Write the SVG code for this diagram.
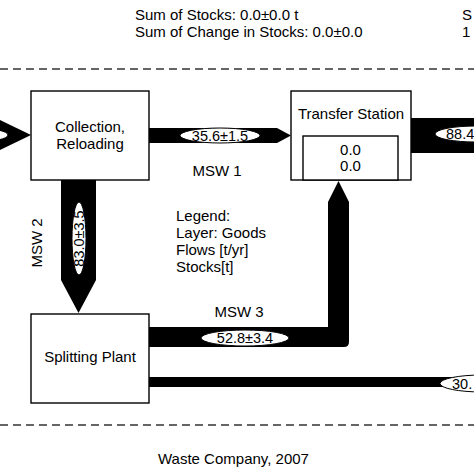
<svg xmlns="http://www.w3.org/2000/svg" width="474" height="474" viewBox="0 0 474 474">
<style>
text{font-family:"Liberation Sans",Arial,sans-serif;font-size:15px;fill:#000}
.c{text-anchor:middle}
.lbl{font-size:14.5px;text-anchor:middle}
.box{fill:#fff;stroke:#000;stroke-width:1.4}
.flow{fill:#000;stroke:none}
.ell{fill:#fff;stroke:#000;stroke-width:1}
.dash{stroke:#333;stroke-width:1.4;stroke-dasharray:8,5;fill:none}
</style>
<rect width="474" height="474" fill="#fff"/>
<g id="header">
<text x="135" y="20">Sum of Stocks: 0.0±0.0 t</text>
<text x="135" y="37">Sum of Change in Stocks: 0.0±0.0</text>
<text x="462" y="20">S</text>
<text x="462" y="37">1</text>
</g>
<line class="dash" x1="0" y1="69" x2="474" y2="69"/>
<line class="dash" x1="0" y1="425" x2="474" y2="425"/>
<g id="connectors">
<g id="input">
<polygon class="flow" points="0,120 31,135 0,150"/>
<ellipse class="ell" cx="-25" cy="135" rx="33" ry="7"/>
</g>
<g id="msw1">
<polygon class="flow" points="149,128 277,128 291,135.5 277,143 149,143"/>
<ellipse class="ell" cx="220" cy="135.5" rx="40" ry="7.5"/>
<text class="lbl" x="220" y="140.5">35.6±1.5</text>
<text class="c" x="217" y="176">MSW 1</text>
</g>
<g id="output">
<rect class="flow" x="411" y="118" width="63" height="35"/>
<ellipse class="ell" cx="476" cy="134" rx="41" ry="8"/>
<text x="446" y="139" style="font-size:14.5px">88.4</text>
</g>
<g id="msw2">
<polygon class="flow" points="61,180 96,180 96,280 78.5,313 61,280"/>
<ellipse class="ell" cx="79" cy="238.5" rx="7" ry="36.5"/>
<text class="lbl" transform="translate(79,238.5) rotate(-90)" x="0" y="5">83.0±3.5</text>
<text class="c" transform="translate(37,243) rotate(-90)" x="0" y="5">MSW 2</text>
</g>
<g id="msw3">
<path class="flow" d="M149,327 H328 V202 L338.5,181 L349,202 V342 Q349,347 344,347 H149 Z"/>
<ellipse class="ell" cx="245" cy="338" rx="44" ry="8"/>
<text class="lbl" x="245" y="343">52.8±3.4</text>
<text class="c" x="239" y="317">MSW 3</text>
</g>
<g id="export">
<rect class="flow" x="149" y="377" width="325" height="10"/>
<ellipse class="ell" cx="482" cy="383.5" rx="42" ry="8.5"/>
<text x="452" y="388.5" style="font-size:14.5px">30.</text>
</g>
</g>
<g id="collection">
<rect class="box" x="31" y="91" width="118" height="89"/>
<text class="c" x="90" y="132">Collection,</text>
<text class="c" x="90" y="149">Reloading</text>
</g>
<g id="transfer">
<rect class="box" x="291" y="91" width="120" height="89"/>
<text class="c" x="351" y="119">Transfer Station</text>
<rect class="box" x="303" y="136" width="95" height="44"/>
<text class="c" x="350.5" y="155">0.0</text>
<text class="c" x="350.5" y="171">0.0</text>
</g>
<g id="splitting">
<rect class="box" x="31" y="314" width="118" height="89"/>
<text class="c" x="90" y="362">Splitting Plant</text>
</g>
<g id="legend">
<text x="176" y="221">Legend:</text>
<text x="176" y="238">Layer: Goods</text>
<text x="176" y="255">Flows [t/yr]</text>
<text x="176" y="272">Stocks[t]</text>
</g>
<g id="footer">
<text x="158" y="464">Waste Company, 2007</text>
</g>
</svg>
